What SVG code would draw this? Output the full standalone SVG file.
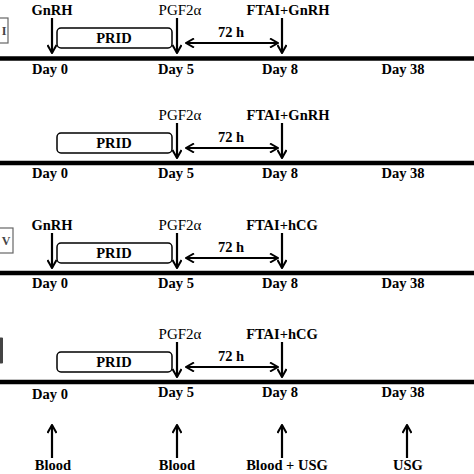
<svg xmlns="http://www.w3.org/2000/svg" width="474" height="474" viewBox="0 0 474 474">
<defs>
<marker id="ah" viewBox="0 0 10 10" refX="9" refY="5" markerWidth="10" markerHeight="10" markerUnits="userSpaceOnUse" orient="auto-start-reverse">
<path d="M1,0.5 L9,5 L1,9.5" fill="none" stroke="#000" stroke-width="2"/>
</marker>
<style>
.t{font-family:"Liberation Serif","Times New Roman",serif;font-size:14.5px;font-weight:bold;fill:#000;text-anchor:middle}
.r{font-weight:normal;font-size:15px}
.s{font-size:12px;fill:#444}
.tl{stroke:#000;stroke-width:4.5}
.ar{stroke:#000;stroke-width:2.2;fill:none;marker-end:url(#ah)}
.dbl{stroke:#000;stroke-width:2.2;fill:none;marker-end:url(#ah);marker-start:url(#ah)}
.prid{fill:#fff;stroke:#000;stroke-width:1.5}
.lb{fill:#fff;stroke:#666;stroke-width:1.2}
</style>
</defs>
<rect width="474" height="474" fill="#fff"/>

<g id="panel1">
<rect class="lb" x="-20" y="18" width="28" height="25"/>
<text class="t s" x="4" y="35">I</text>
<rect class="prid" x="57" y="28" width="115" height="20" rx="4"/>
<text class="t" x="114" y="43">PRID</text>
<text class="t" x="52" y="15">GnRH</text>
<text class="t r" x="180" y="15">PGF2α</text>
<text class="t" x="288" y="15">FTAI+GnRH</text>
<text class="t" x="231" y="37">72 h</text>
<text class="t" x="50" y="74">Day 0</text>
<text class="t" x="176" y="74">Day 5</text>
<text class="t" x="280" y="74">Day 8</text>
<text class="t" x="403" y="74">Day 38</text>
</g>

<g id="panel2">
<rect class="prid" x="57" y="133" width="115" height="20" rx="4"/>
<text class="t" x="114" y="148">PRID</text>
<text class="t r" x="180" y="120">PGF2α</text>
<text class="t" x="288" y="120">FTAI+GnRH</text>
<text class="t" x="231" y="142">72 h</text>
<text class="t" x="50" y="178">Day 0</text>
<text class="t" x="176" y="178">Day 5</text>
<text class="t" x="280" y="178">Day 8</text>
<text class="t" x="403" y="178">Day 38</text>
</g>

<g id="panel3">
<rect class="lb" x="-20" y="228" width="33" height="25"/>
<text class="t s" x="6" y="245">V</text>
<rect class="prid" x="57" y="243" width="115" height="20" rx="4"/>
<text class="t" x="114" y="258">PRID</text>
<text class="t" x="52" y="230">GnRH</text>
<text class="t r" x="180" y="230">PGF2α</text>
<text class="t" x="282" y="230">FTAI+hCG</text>
<text class="t" x="231" y="252">72 h</text>
<text class="t" x="50" y="288">Day 0</text>
<text class="t" x="176" y="288">Day 5</text>
<text class="t" x="280" y="288">Day 8</text>
<text class="t" x="403" y="288">Day 38</text>
</g>

<g id="panel4">
<rect class="lb" x="-20" y="338" width="22" height="25"/>
<rect x="0" y="338" width="3" height="25" fill="#444"/>
<rect class="prid" x="57" y="352" width="115" height="20" rx="4"/>
<text class="t" x="114" y="367">PRID</text>
<text class="t r" x="180" y="339">PGF2α</text>
<text class="t" x="282" y="339">FTAI+hCG</text>
<text class="t" x="231" y="361">72 h</text>
<text class="t" x="50" y="399">Day 0</text>
<text class="t" x="176" y="397">Day 5</text>
<text class="t" x="280" y="397">Day 8</text>
<text class="t" x="403" y="397">Day 38</text>
</g>

<g id="sampling">
<text class="t" x="53" y="470">Blood</text>
<text class="t" x="177" y="470">Blood</text>
<text class="t" x="287" y="470">Blood + USG</text>
<text class="t" x="408" y="470">USG</text>
</g>

<g id="connectors">
<line class="tl" x1="0" y1="58.5" x2="474" y2="58.5"/>
<line class="tl" x1="0" y1="163" x2="474" y2="163"/>
<line class="tl" x1="0" y1="273" x2="474" y2="273"/>
<line class="tl" x1="0" y1="382" x2="474" y2="382"/>

<line class="ar" x1="52" y1="18" x2="52" y2="53"/>
<line class="ar" x1="177" y1="18" x2="177" y2="53"/>
<line class="ar" x1="282" y1="18" x2="282" y2="53"/>
<line class="dbl" x1="186" y1="43" x2="278" y2="43"/>

<line class="ar" x1="177" y1="123" x2="177" y2="158"/>
<line class="ar" x1="282" y1="123" x2="282" y2="158"/>
<line class="dbl" x1="186" y1="148" x2="278" y2="148"/>

<line class="ar" x1="52" y1="233" x2="52" y2="268"/>
<line class="ar" x1="177" y1="233" x2="177" y2="268"/>
<line class="ar" x1="282" y1="233" x2="282" y2="268"/>
<line class="dbl" x1="186" y1="258" x2="278" y2="258"/>

<line class="ar" x1="177" y1="342" x2="177" y2="377"/>
<line class="ar" x1="282" y1="342" x2="282" y2="377"/>
<line class="dbl" x1="186" y1="367" x2="278" y2="367"/>

<line class="ar" x1="52" y1="458" x2="52" y2="425"/>
<line class="ar" x1="177" y1="458" x2="177" y2="425"/>
<line class="ar" x1="282" y1="458" x2="282" y2="425"/>
<line class="ar" x1="407" y1="458" x2="407" y2="425"/>
</g>
</svg>
